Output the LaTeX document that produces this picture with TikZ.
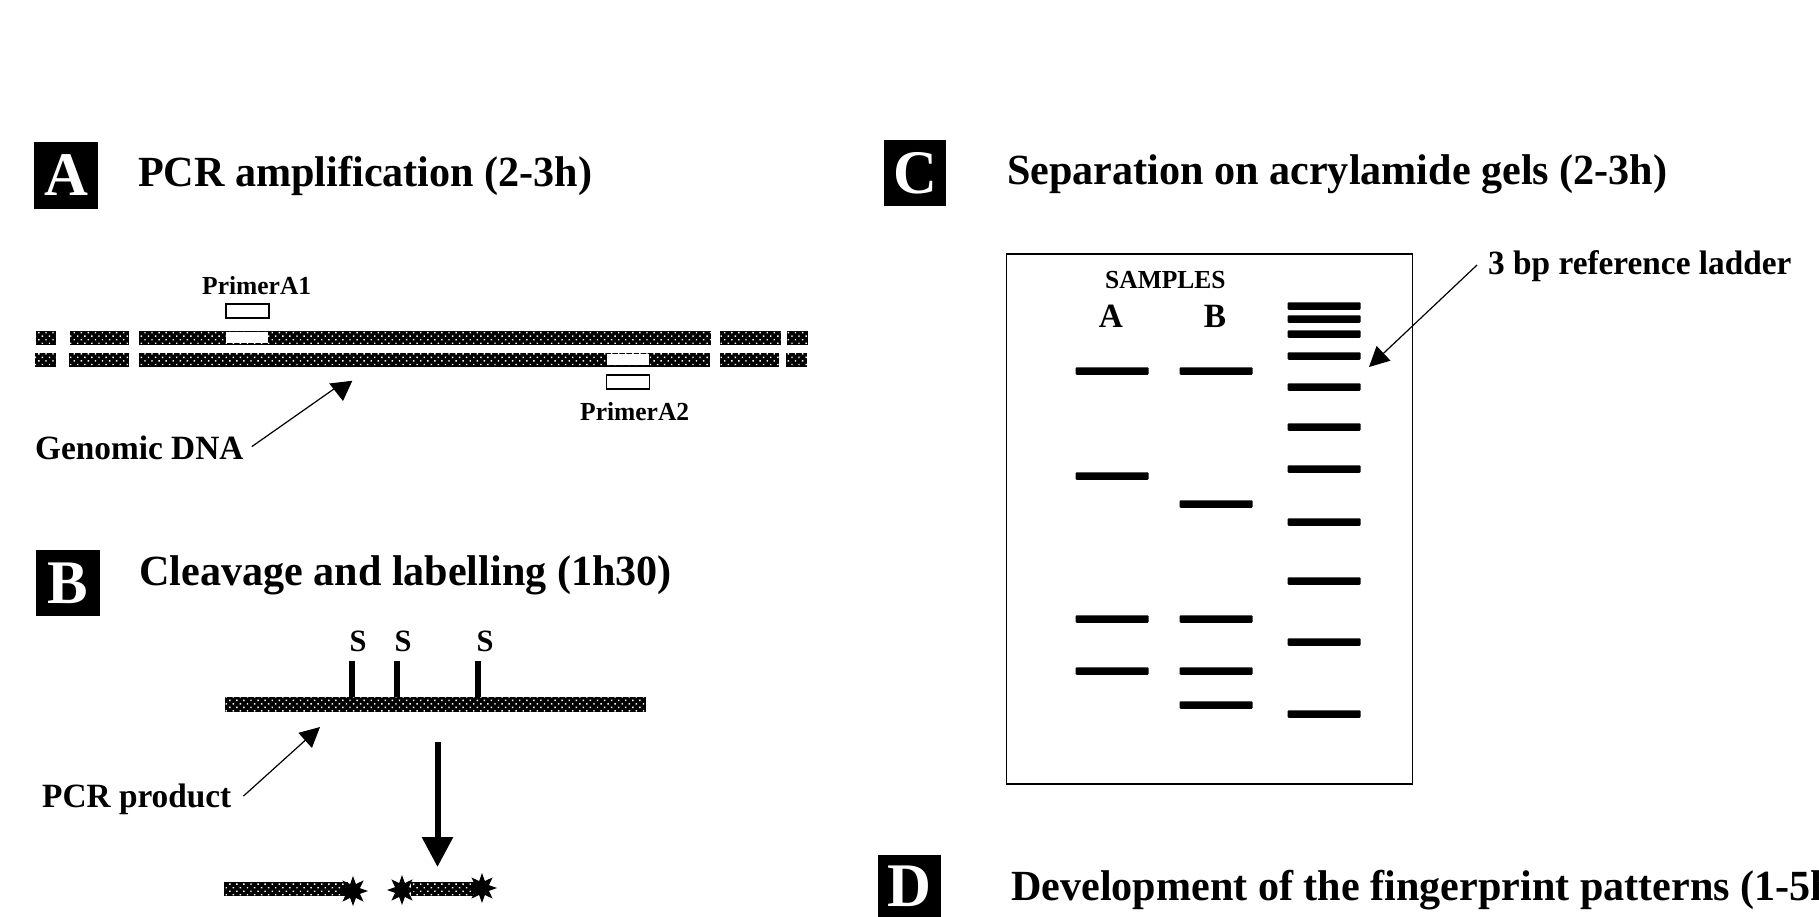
\documentclass[tikz,border=0pt]{standalone}
\usepackage{fontspec}
\setmainfont{Liberation Serif}[FakeStretch=0.98]
\usetikzlibrary{shapes.geometric, arrows.meta, patterns.meta}

\begin{document}
\begin{tikzpicture}[x=1pt, y=-1pt,
    letterbox/.style={rectangle, fill=black, text=white, inner sep=0, font=\fontsize{62}{62}\selectfont\bfseries},
    heading/.style={anchor=base west, inner sep=0, font=\fontsize{43}{48}\selectfont\bfseries},
    lbl/.style={anchor=base west, inner sep=0, font=\fontsize{34}{36}\selectfont\bfseries},
    small/.style={anchor=base west, inner sep=0, font=\fontsize{26}{30}\selectfont\bfseries},
    strand/.style={rectangle, inner sep=0, minimum height=14pt, fill=black, postaction={pattern={Dots[distance=5pt, radius=1pt, angle=45]}, pattern color=white}},
    hole/.style={rectangle, inner sep=0, fill=white, minimum width=42pt, minimum height=11pt},
    primer/.style={rectangle, draw, line width=1.5pt, fill=white, inner sep=0, minimum width=43pt, minimum height=14pt},
    site/.style={rectangle, fill=black, inner sep=0, minimum width=6pt, minimum height=36pt},
    band/.style={rectangle, fill=black, rounded corners=1pt, inner sep=0, minimum width=73pt, minimum height=7.5pt},
    marker/.style={star, star points=8, star point ratio=2, fill=black, inner sep=0, minimum size=30pt},
    n/.style={-{Triangle[length=20pt, width=20pt]}, line width=1.2pt},
    big/.style={-{Triangle[length=30pt, width=30pt]}, line width=6pt}]
    \useasboundingbox (0,0) rectangle (1819,916);
    \clip (0,0) rectangle (1819,916);
    % A
    \node[letterbox, minimum width=64pt, minimum height=67pt] (boxA) at (66,175.5) {A};
    \node[heading] (titleA) at (138,186) {PCR amplification (2-3h)};
    \node[small] (primer1) at (202,294) {PrimerA1};
    \node[primer] (p1) at (247.5,311) {};
    \node[strand, minimum width=20pt] (u1) at (46,337.5) {};
    \node[strand, minimum width=59pt] (u2) at (99.5,337.5) {};
    \node[strand, minimum width=572pt] (u3) at (425,337.5) {};
    \node[strand, minimum width=61pt] (u4) at (750.5,337.5) {};
    \node[strand, minimum width=21pt] (u5) at (797.5,337.5) {};
    \node[hole] (h1) at (247,337.5) {};
    \node[strand, minimum width=21pt] (l1) at (45.5,359.5) {};
    \node[strand, minimum width=60pt] (l2) at (99,359.5) {};
    \node[strand, minimum width=571pt] (l3) at (424.5,359.5) {};
    \node[strand, minimum width=59pt] (l4) at (749.5,359.5) {};
    \node[strand, minimum width=21pt] (l5) at (796.5,359.5) {};
    \node[hole] (h2) at (628,359.5) {};
    \node[primer] (p2) at (628,382) {};
    \node[small] (primer2) at (580,420) {PrimerA2};
    \node[lbl] (genomic) at (35,459) {Genomic DNA};
    \coordinate (genomictop) at (341,384);
    \coordinate (genomictip) at (343,401);
    \draw[line width=1.2pt, shorten <=10pt] ([yshift=-5pt]genomic.east) -- (genomictop);
    \draw[n, -{Triangle[length=19pt, width=23pt]}] (genomictop) -- (genomictip);

    % B
    \node[letterbox, minimum width=64pt, minimum height=66pt] (boxB) at (68,583) {B};
    \node[heading] (titleB) at (139,585) {Cleavage and labelling (1h30)};
    \node[small, anchor=base, font=\fontsize{31}{34}\selectfont\bfseries] (s1) at (358,651) {S};
    \node[small, anchor=base, font=\fontsize{31}{34}\selectfont\bfseries] (s2) at (403,651) {S};
    \node[small, anchor=base, font=\fontsize{31}{34}\selectfont\bfseries] (s3) at (485,651) {S};
    \node[site] (t1) at (352,679) {};
    \node[site] (t2) at (397,679) {};
    \node[site] (t3) at (478,679) {};
    \node[strand, minimum width=421pt, minimum height=15pt] (product) at (435.5,704.5) {};
    \node[lbl] (pcr) at (42,807) {PCR product};
    \coordinate (pcrtip) at (320,727);
    \draw[n, shorten <=16pt] ([yshift=-8pt]pcr.east) -- (pcrtip);
    \coordinate (cuttop) at (437.5,742);
    \coordinate (cutend) at (437.5,867);
    \draw[big] (cuttop) -- (cutend);
    \node[strand, minimum width=124pt] (frag1) at (286,889) {};
    \node[strand, minimum width=64pt] (frag2) at (443,888.5) {};
    \node[marker] (m1) at (353,891) {};
    \node[marker] (m2) at (402,890) {};
    \node[marker] (m3) at (482,888) {};

    % C
    \node[letterbox, minimum width=62pt, minimum height=66pt] (boxC) at (915,173) {C};
    \node[heading] (titleC) at (1007,184) {Separation on acrylamide gels (2-3h)};
    \node[rectangle, draw, line width=1.5pt, inner sep=0, minimum width=406pt, minimum height=530pt] (gel) at (1209.5,519) {};
    \node[small] (samples) at (1105,288) {SAMPLES};
    \node[lbl, anchor=base] (laneA) at (1111,327) {A};
    \node[lbl, anchor=base] (laneB) at (1215,327) {B};
    \foreach \y in {371, 476, 619, 671}
        \node[band] (a\y) at (1112,\y) {};
    \foreach \y in {371, 504, 619, 671, 705}
        \node[band] (b\y) at (1216,\y) {};
    \foreach \y in {306, 319, 334, 356, 387, 427, 469, 522, 581, 642, 714}
        \node[band] (c\y) at (1324,\y) {};
    \node[lbl] (ladder) at (1488,274) {3 bp reference ladder};
    \coordinate (laddertip) at (1369,367);
    \draw[n, shorten <=15pt] ([yshift=11pt]ladder.west) -- (laddertip);

    % D
    \node[letterbox, minimum width=63pt, minimum height=62pt] (boxD) at (909.5,886) {D};
    \node[heading] (titleD) at (1011,900) {Development of the fingerprint patterns (1-5h};
\end{tikzpicture}
\end{document}
